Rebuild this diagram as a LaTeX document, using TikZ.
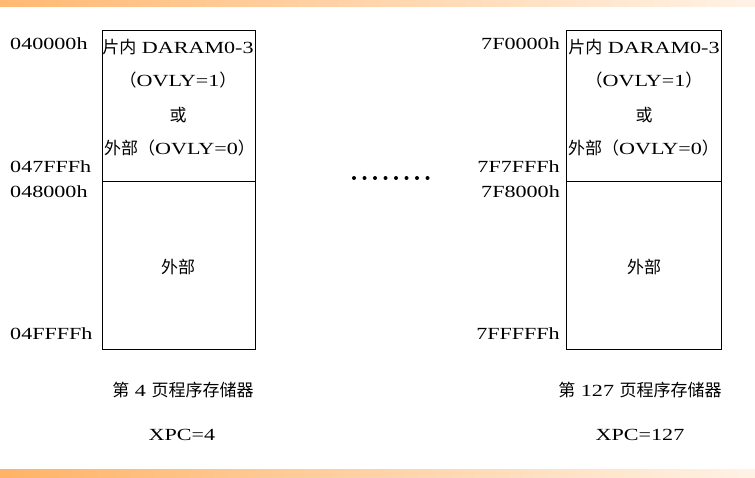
\documentclass[tikz,border=0pt]{standalone}
\usepackage{fontspec}
\setmainfont[FakeStretch=1.3]{Liberation Serif}
\newfontfamily\cjk{Noto Sans CJK SC}
\begin{document}
\begin{tikzpicture}[x=1pt,y=-1pt,
  lbl/.style={font=\fontsize{17}{19}\selectfont,inner sep=0pt},
  mem/.style={draw=black,line width=0.8pt}]
\useasboundingbox (0,0) rectangle (755,478);
\shade[left color=orange!55!white,right color=orange!10!white] (0,0) rectangle (755,7);
\shade[left color=orange!60!white,right color=orange!10!white] (0,469) rectangle (755,478);
% left
\draw[mem] (102,30) rectangle (255,349);
\draw[mem] (102,181) -- (255,181);
\node[lbl,anchor=west] (a1) at (10,44) {040000h};
\node[lbl,anchor=west] (a2) at (10,167) {047FFFh};
\node[lbl,anchor=west] (a3) at (10,192) {048000h};
\node[lbl,anchor=west] (a4) at (10,334) {04FFFFh};
\node[lbl] (t1) at (178,47) {{\cjk 片内} DARAM0-3};
\node[lbl] (t2) at (178,80) {{\cjk （}OVLY=1{\cjk ）}};
\node[lbl] (t3) at (178,115) {\cjk 或};
\node[lbl,anchor=west] (t4) at (104,148) {{\cjk 外部（}OVLY=0{\cjk ）}};
\node[lbl] (t5) at (178,267) {\cjk 外部};
\node[lbl] (c1) at (183,390) {{\cjk 第} 4 {\cjk 页程序存储器}};
\node[lbl] (x1) at (182,435) {XPC=4};
% right
\draw[mem] (566,30) rectangle (721,349);
\draw[mem] (566,181) -- (721,181);
\node[lbl,anchor=east] (b1) at (560,44) {7F0000h};
\node[lbl,anchor=east] (b2) at (560,167) {7F7FFFh};
\node[lbl,anchor=east] (b3) at (560,192) {7F8000h};
\node[lbl,anchor=east] (b4) at (560,334) {7FFFFFh};
\node[lbl] (s1) at (644,47) {{\cjk 片内} DARAM0-3};
\node[lbl] (s2) at (644,80) {{\cjk （}OVLY=1{\cjk ）}};
\node[lbl] (s3) at (644,115) {\cjk 或};
\node[lbl,anchor=west] (s4) at (568,148) {{\cjk 外部（}OVLY=0{\cjk ）}};
\node[lbl] (s5) at (644,267) {\cjk 外部};
\node[lbl] (c2) at (640,390) {{\cjk 第} 127 {\cjk 页程序存储器}};
\node[lbl] (x2) at (640,435) {XPC=127};
% dots
\foreach \i in {0,...,7} \fill (354+\i*10.5,178) circle (2);
\end{tikzpicture}
\end{document}
